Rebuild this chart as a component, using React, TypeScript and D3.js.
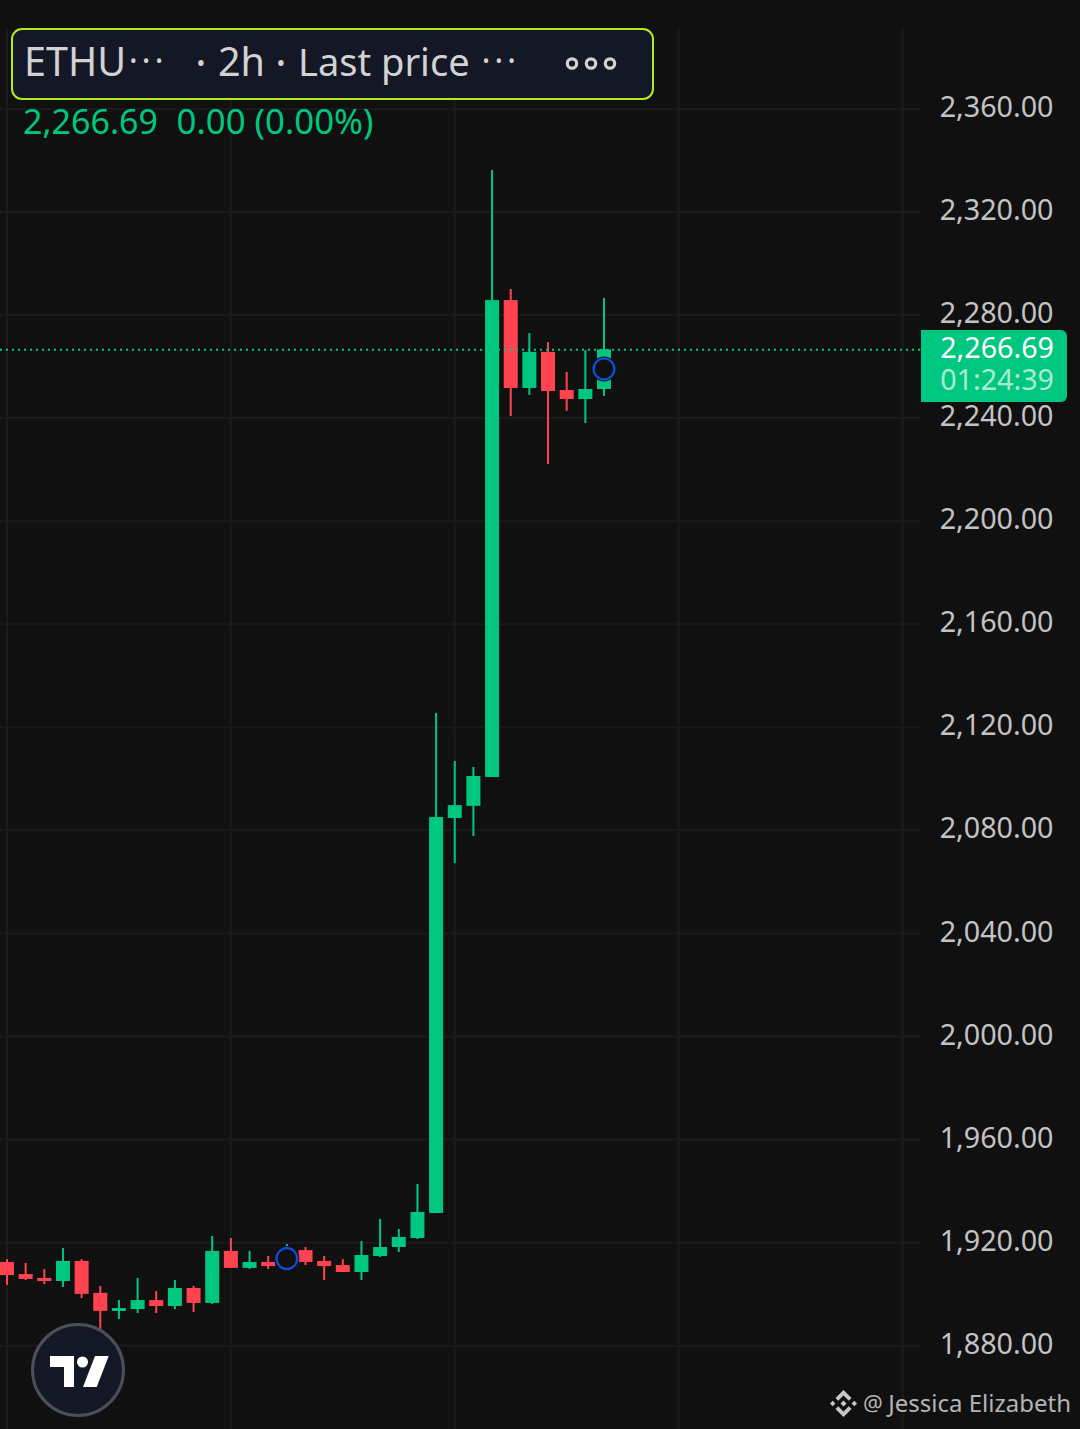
import React from "react";
import * as d3 from "d3";

// 2h candles, oldest first
const opens = [1912.5, 1907.8, 1906.3, 1905.1, 1912.9, 1900.5, 1893.5, 1894.2, 1897.7, 1895.4, 1902.4, 1896.6, 1916.8, 1910.2, 1912.5, 1912.5, 1917.1, 1912.9, 1911.3, 1908.6, 1914.8, 1918.3, 1921.8, 1931.5, 2084.8, 2089.5, 2100.7, 2285.8, 2251.7, 2265.7, 2250.9, 2247.4, 2251.3];
const highs = [1913.6, 1912.1, 1909.8, 1917.9, 1913.6, 1903.2, 1897.7, 1906.3, 1901.2, 1905.5, 1903.2, 1922.6, 1921.8, 1916.8, 1914.8, 1919.5, 1918.3, 1914.8, 1913.6, 1920.6, 1929.2, 1925.3, 1942.8, 2125.6, 2106.9, 2104.6, 2336.3, 2290.1, 2273.0, 2269.5, 2257.9, 2266.4, 2286.6];
const lows = [1903.6, 1905.5, 1903.9, 1902.8, 1898.5, 1884.9, 1890.4, 1892.7, 1892.7, 1894.2, 1893.1, 1896.2, 1910.2, 1909.8, 1909.8, 1910.9, 1911.3, 1905.5, 1908.6, 1905.5, 1914.4, 1916.4, 1921.4, 1931.5, 2067.3, 2077.8, 2100.7, 2240.8, 2249.0, 2222.2, 2242.8, 2238.1, 2248.6];
const closes = [1907.4, 1905.9, 1905.1, 1912.9, 1900.1, 1893.5, 1894.6, 1897.7, 1895.4, 1902.4, 1896.6, 1916.8, 1910.2, 1912.5, 1910.9, 1916.0, 1912.5, 1910.9, 1908.6, 1915.2, 1918.3, 1922.2, 1931.9, 2085.2, 2089.8, 2101.1, 2285.8, 2251.7, 2265.7, 2250.5, 2247.4, 2251.3, 2266.69];

const priceTicks = [2360, 2320, 2280, 2240, 2200, 2160, 2120, 2080, 2040, 2000, 1960, 1920, 1880];
const dayBars = [0, 12, 24, 36, 48];
const eventBars = [15, 32];
const eventPrices = [1913.8, 2259.1];
const lastPrice = 2266.69;

const GREEN = "#00c77f";
const RED = "#ff4350";
const BG = "#101010";
const GRID = "#1a1a1a";
const FONT = "'Noto Sans', sans-serif";
const fmt = d3.format(",.2f");

const x = d3.scaleLinear().domain([0, 32]).range([7, 604]);
const y = d3.scaleLinear().domain([1880, 2360]).range([1345.7, 108.9]);

// binance mark, relative to its centre
const chevron = "M0,-13.5L8,-5.5L5.3,-2.8L0,-8L-5.3,-2.8L-8,-5.5Z";
const sideDiamond = "M-13.5,0L-10.8,-2.7L-8.1,0L-10.8,2.7Z";

const App: React.FC = () => {
  const lastY = y(lastPrice);

  return (
    <svg
      width={1080}
      height={1429}
      style={{ position: "absolute", left: 0, top: 0, display: "block" }}
      fontFamily={FONT}
    >
      <rect width={1080} height={1429} fill={BG} />

      {/* grid */}
      {priceTicks.map((t) => (
        <line key={t} x1={0} x2={921} y1={y(t)} y2={y(t)} stroke={GRID} strokeWidth={2} />
      ))}
      {dayBars.map((d) => (
        <line key={d} x1={x(d)} x2={x(d)} y1={28} y2={1429} stroke={GRID} strokeWidth={2} />
      ))}

      {/* candles */}
      {opens.map((o, i) => {
        const c = closes[i];
        const color = c >= o ? GREEN : RED;
        return (
          <g key={i} fill={color}>
            <rect x={x(i) - 1} y={y(highs[i])} width={2} height={y(lows[i]) - y(highs[i])} />
            <rect
              x={x(i) - 7}
              y={y(Math.max(o, c))}
              width={14}
              height={Math.max(1, Math.abs(y(o) - y(c)))}
            />
          </g>
        );
      })}

      {/* last price line */}
      <line
        x1={0}
        x2={921}
        y1={lastY + 0.5}
        y2={lastY + 0.5}
        stroke={GREEN}
        strokeWidth={2}
        strokeDasharray="2 4"
      />

      {/* event markers, with a dark halo */}
      {eventBars.map((b, i) => (
        <g key={b}>
          <circle cx={x(b)} cy={y(eventPrices[i])} r={12.5} fill={BG} />
          <circle
            cx={x(b)}
            cy={y(eventPrices[i])}
            r={10.4}
            fill={BG}
            stroke="#0b50e0"
            strokeWidth={2.2}
          />
        </g>
      ))}

      {/* price axis */}
      {priceTicks.map((t) => (
        <text key={t} x={1053.5} y={y(t) + 8.1} textAnchor="end" fontSize={28.7} fill="#c3c3c3">
          {fmt(t)}
        </text>
      ))}

      {/* last price badge */}
      <path
        d="M921,330H1061a6,6 0 0 1 6,6V396a6,6 0 0 1 -6,6H921Z"
        fill={GREEN}
      />
      <text x={1054} y={358.4} textAnchor="end" fontSize={28.7} fill="#ffffff">
        {fmt(lastPrice)}
      </text>
      <text x={1054} y={390} textAnchor="end" fontSize={28.7} fill="#ffffff" fillOpacity={0.68}>
        01:24:39
      </text>

      {/* legend */}
      <rect x={12} y={29} width={641} height={70} rx={10} fill="#141826" stroke="#b2ec1c" strokeWidth={2} />
      <g fill="#d2d2d2">
        <text x={24} y={76} fontSize={39.5}>ETHU</text>
        <text x={128.8} y={72.5} fontSize={34} letterSpacing={3.7}>···</text>
        <text x={195} y={79} fontSize={44}>·</text>
        <text x={218} y={75.5} fontSize={39.5}>2h</text>
        <text x={275} y={79} fontSize={44}>·</text>
        <text x={298} y={75.5} fontSize={38}>Last price</text>
        <text x={481.5} y={72.5} fontSize={34} letterSpacing={3.7}>···</text>
      </g>
      {[572, 591, 610].map((cx) => (
        <circle key={cx} cx={cx} cy={63.5} r={4.7} fill="none" stroke="#d2d2d2" strokeWidth={3.2} />
      ))}
      <g fill={GREEN}>
        <text x={23} y={134} fontSize={34}>{fmt(lastPrice)}</text>
        <text x={176.5} y={134} fontSize={34.8}>0.00 (0.00%)</text>
      </g>

      {/* tradingview logo */}
      <circle cx={78} cy={1370} r={45.5} fill="#141826" stroke="#4c4f57" strokeWidth={3} />
      <path d="M50,1356H74V1387H64V1367H50Z" fill="#ffffff" />
      <circle cx={82.5} cy={1362} r={5.5} fill="#ffffff" />
      <path d="M95,1356H108.7L96.7,1387H83Z" fill="#ffffff" />

      {/* watermark */}
      <g transform="translate(843.5,1403.5)" fill="#c8c8c8">
        <path d={chevron} />
        <path d={chevron} transform="scale(1,-1)" />
        <path d={sideDiamond} />
        <path d={sideDiamond} transform="scale(-1,1)" />
        <path d="M0,-3L3,0L0,3L-3,0Z" />
      </g>
      <text x={863} y={1411} fontSize={22} fill="#b4b4b4">@</text>
      <text x={1071} y={1412} textAnchor="end" fontSize={24} fill="#b4b4b4">
        Jessica Elizabeth
      </text>
    </svg>
  );
};

export default App;
